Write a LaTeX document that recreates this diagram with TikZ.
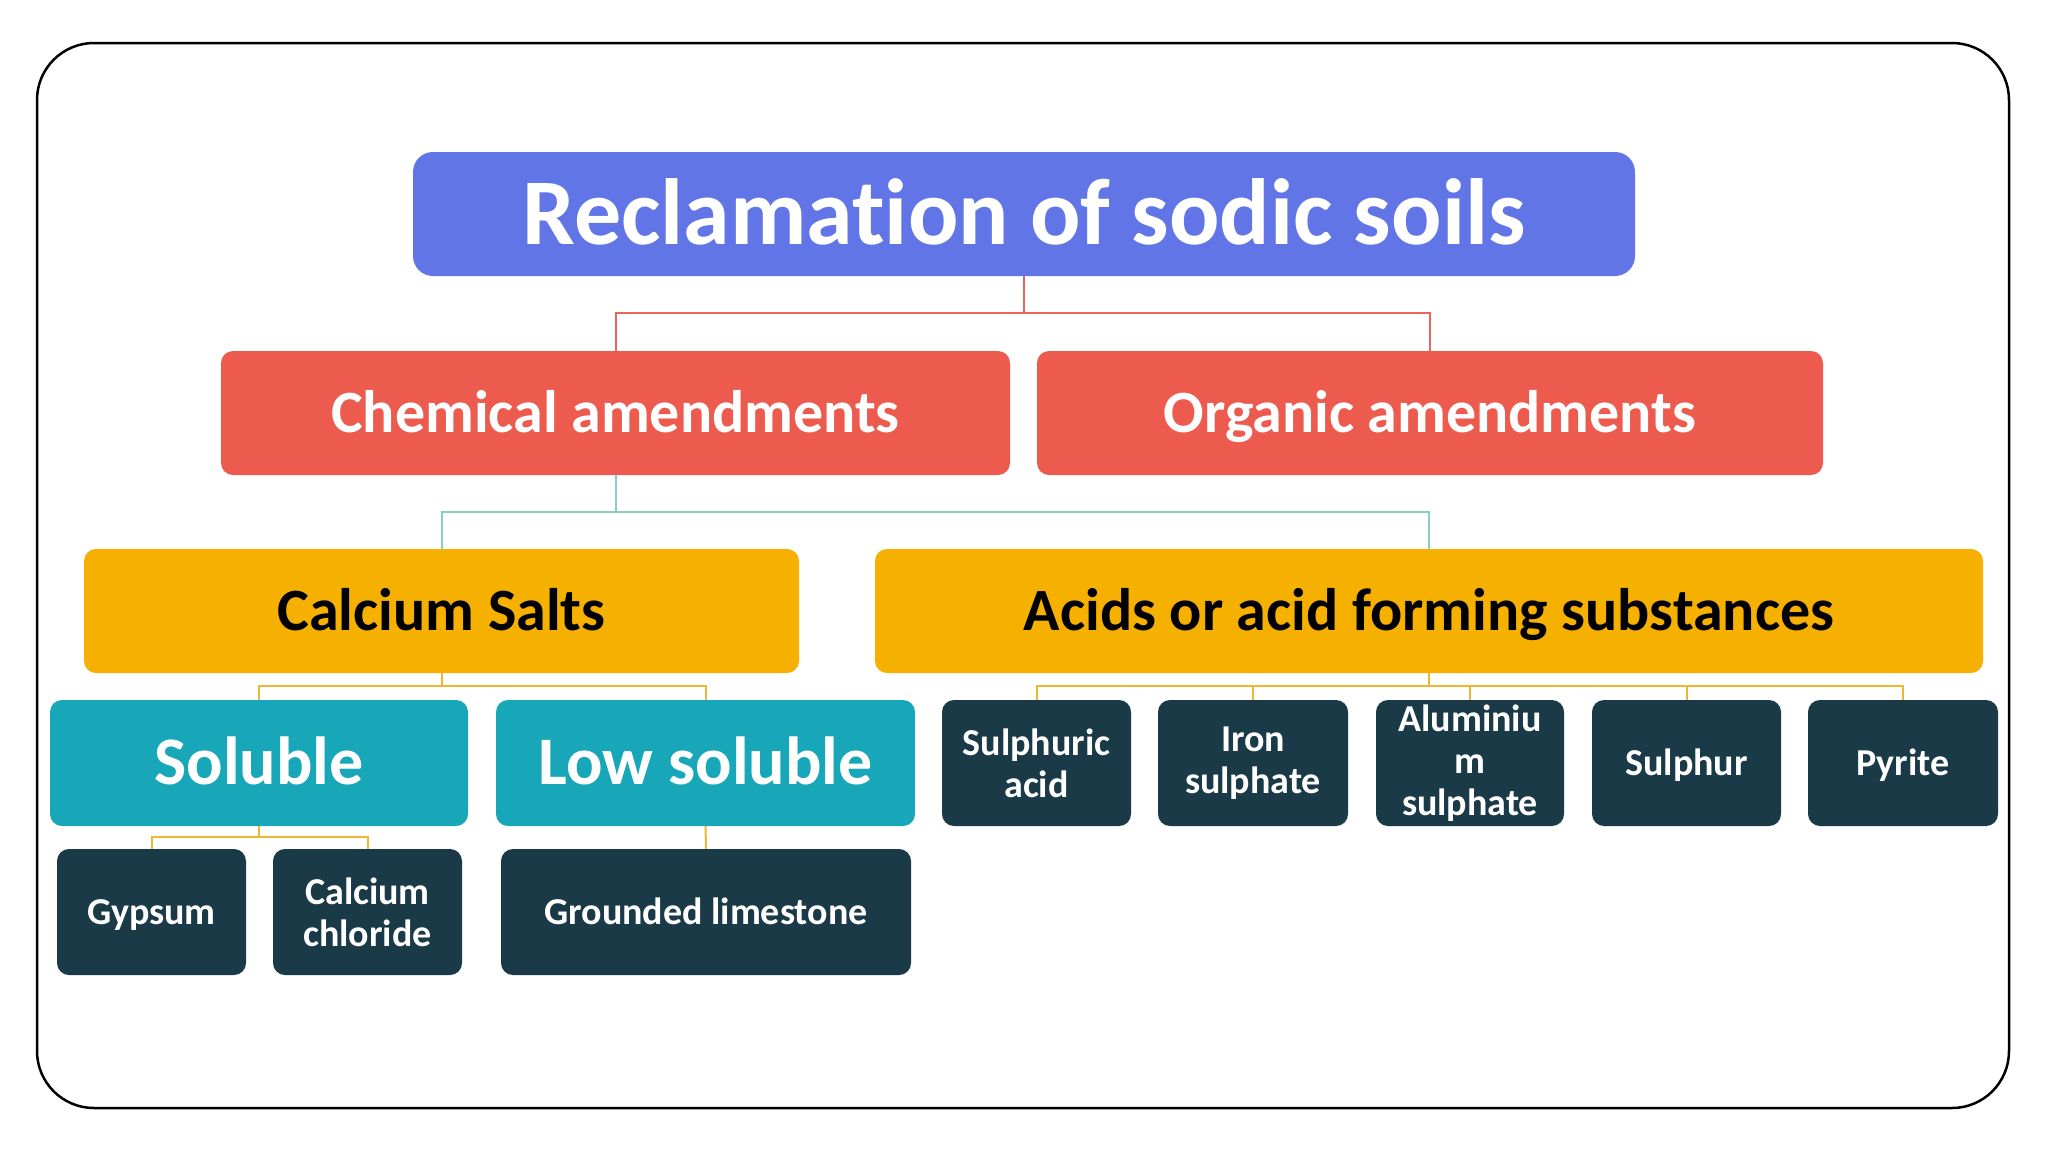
\documentclass[tikz,border=0pt]{standalone}
\usepackage{fontspec}
\setmainfont{Carlito}[Ligatures=NoCommon]
\definecolor{cblue}{HTML}{6275E6}
\definecolor{cred}{HTML}{EC5B4E}
\definecolor{corange}{HTML}{F5B000}
\definecolor{cteal}{HTML}{18A7B8}
\definecolor{cdark}{HTML}{1B3A47}
\definecolor{lred}{HTML}{E8665C}
\definecolor{lteal}{HTML}{86D0C0}
\definecolor{lorange}{HTML}{F2B531}
\begin{document}
\begin{tikzpicture}[x=1pt,y=-1pt,
  box/.style={rectangle,rounded corners=12pt,inner sep=0pt,align=center,font=\bfseries},
  oneline/.style={text height=#1,text depth=0pt},
  titlebox/.style={box,oneline=60.5pt,fill=cblue,text=white,rounded corners=20pt,minimum width=1222pt,minimum height=124pt,font=\fontsize{94}{100}\selectfont\bfseries},
  redbox/.style={box,oneline=38.6pt,fill=cred,text=white,minimum height=124pt,font=\fontsize{60}{68}\selectfont\bfseries},
  orangebox/.style={box,oneline=38.6pt,fill=corange,text=black,minimum height=124pt,font=\fontsize{60}{68}\selectfont\bfseries},
  tealbox/.style={box,oneline=43.8pt,fill=cteal,text=white,minimum height=126pt,font=\fontsize{68}{76}\selectfont\bfseries},
  leafbox/.style={box,fill=cdark,text=white,minimum height=126pt,minimum width=189pt,font=\fontsize{38}{42}\selectfont\bfseries},
  redline/.style={draw=lred,line width=2pt},
  tealline/.style={draw=lteal,line width=2pt},
  orangeline/.style={draw=lorange,line width=2pt}]
\useasboundingbox (0,0) rectangle (2048,1152);
\fill[white] (0,0) rectangle (2048,1152);
\draw[black,line width=2.5pt,rounded corners=57pt] (37,43) rectangle (2009,1108);

\node[titlebox] (title) at (1024,214) {Reclamation of sodic soils};
\node[redbox,minimum width=789pt] (chem) at (615.5,413) {Chemical amendments};
\node[redbox,minimum width=786pt] (org) at (1430,413) {Organic amendments};
\node[orangebox,minimum width=715pt] (cal) at (441.5,611) {Calcium Salts};
\node[orangebox,minimum width=1108pt] (acid) at (1429,611) {Acids or acid forming substances};
\node[tealbox,minimum width=418pt] (sol) at (259,763) {Soluble};
\node[tealbox,minimum width=419pt] (low) at (705.5,763) {Low soluble};
\node[leafbox,oneline=24.5pt] (gyp) at (151.5,912) {Gypsum};
\node[leafbox] (cacl) at (367.5,912) {Calcium\\chloride};
\node[leafbox,oneline=24.5pt,minimum width=410pt] (lime) at (706,912) {Grounded limestone};
\node[leafbox] (h2so4) at (1036.5,763) {Sulphuric\\acid};
\node[leafbox,minimum width=190pt] (iron) at (1253,763) {Iron\\sulphate};
\node[leafbox,minimum width=188pt] (alum) at (1470,763) {Aluminiu\\m\\sulphate};
\node[leafbox,oneline=24.5pt] (sulf) at (1686.5,763) {Sulphur};
\node[leafbox,oneline=24.5pt,minimum width=190pt] (pyr) at (1903,763) {Pyrite};

\draw[redline] (title.south) -- ++(0,37) -| (chem.north);
\draw[redline] (title.south) -- ++(0,37) -| (org.north);
\draw[tealline] (chem.south) -- ++(0,37) -| (cal.north);
\draw[tealline] (chem.south) -- ++(0,37) -| (acid.north);
\draw[orangeline] (cal.south) -- ++(0,13) -| (sol.north);
\draw[orangeline] (cal.south) -- ++(0,13) -| (low.north);
\draw[orangeline] (sol.south) -- ++(0,11) -| (gyp.north);
\draw[orangeline] (sol.south) -- ++(0,11) -| (cacl.north);
\draw[orangeline] (low.south) -- (lime.north);
\foreach \n in {h2so4,iron,alum,sulf,pyr}
  \draw[orangeline] (acid.south) -- ++(0,13) -| (\n.north);
\end{tikzpicture}
\end{document}
